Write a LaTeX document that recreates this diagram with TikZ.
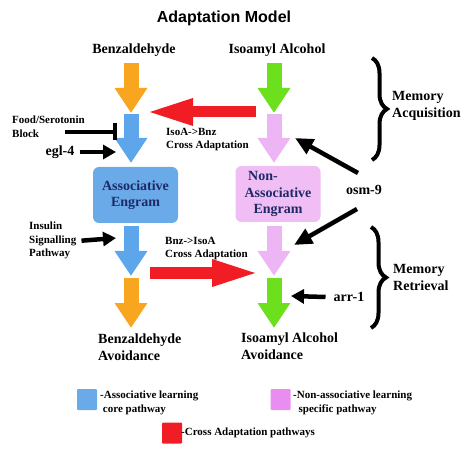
\documentclass[tikz,border=0pt]{standalone}
\usepackage{fontspec}
\setmainfont{Liberation Serif}
\newfontfamily\titlefont{Liberation Sans}
\usetikzlibrary{arrows.meta,decorations.pathreplacing}
\definecolor{benzorange}{HTML}{F8A520}
\definecolor{isogreen}{HTML}{6CE01C}
\definecolor{assocblue}{HTML}{5DA6EC}
\definecolor{nonpink}{HTML}{EDB5F3}
\definecolor{crossred}{HTML}{F01E24}
\definecolor{engramtext}{HTML}{1E2A66}
\definecolor{boxblue}{HTML}{6BAAE9}
\definecolor{boxpink}{HTML}{F1BDF5}
\definecolor{keypink}{HTML}{E98DF0}

\begin{document}
\begin{tikzpicture}[x=1pt, y=-1pt,
    fat/.style={line width=15pt, -{Triangle[length=25pt,width=31pt]}},
    cross/.style={line width=11pt, crossred, -{Triangle[length=48pt,width=24pt]}},
    blk/.style={line width=4.5pt, -{Triangle[length=13pt,width=14pt]}},
    big/.style={font=\bfseries\fontsize{14}{17}\selectfont, align=left, inner sep=0pt},
    small/.style={font=\bfseries\fontsize{11}{13.5}\selectfont, align=left, inner sep=0pt},
    engram/.style={rounded corners=6pt, minimum width=85pt, minimum height=56pt, inner sep=0pt,
        font=\bfseries\fontsize{14}{16.5}\selectfont, text=engramtext, align=center},
    key/.style={minimum width=20pt, minimum height=21pt, inner sep=0pt, rounded corners=1pt},
    memory/.style={decorate, decoration={brace, amplitude=15pt}, line width=4pt}]
    \useasboundingbox (0,0) rectangle (474,457);

    \node (title) at (224,18) {\titlefont\bfseries\fontsize{16}{18}\selectfont Adaptation Model};

    % odours and avoidance
    \node (benz) [big] at (134,50) {Benzaldehyde};
    \node (iso) [big] at (277,50) {Isoamyl Alcohol};
    \node (benzav) [big, anchor=north west] at (98,334) {Benzaldehyde\\Avoidance};
    \node (isoav) [big, anchor=north west] at (241,333) {Isoamyl Alcohol\\Avoidance};

    % engrams
    \node (assoc) [engram, fill=boxblue] at (135.5,195) {Associative\\Engram};
    \node (nonassoc) [engram, fill=boxpink] at (278,194) {Non-\hspace*{30pt}\\Associative\\Engram};

    % main pathways
    \coordinate (bzTop) at (131,63);
    \coordinate (bzTip) at (131,113);
    \coordinate (asTop) at (131,114);
    \coordinate (asTip) at (131,163);
    \coordinate (as2Top) at (131,226);
    \coordinate (as2Tip) at (131,276);
    \coordinate (bz2Top) at (131,278);
    \coordinate (bz2Tip) at (131,328);
    \coordinate (isTop) at (274,63);
    \coordinate (isTip) at (274,113);
    \coordinate (naTop) at (274,114);
    \coordinate (naTip) at (274,163);
    \coordinate (na2Top) at (274,226);
    \coordinate (na2Tip) at (274,276);
    \coordinate (is2Top) at (274,278);
    \coordinate (is2Tip) at (274,328);

    \draw[fat, benzorange] (bzTop) -- (bzTip);
    \draw[fat, assocblue] (asTop) -- (asTip);
    \draw[fat, assocblue] (as2Top) -- (as2Tip);
    \draw[fat, benzorange] (bz2Top) -- (bz2Tip);
    \draw[fat, isogreen] (isTop) -- (isTip);
    \draw[fat, nonpink] (naTop) -- (naTip);
    \draw[fat, nonpink] (na2Top) -- (na2Tip);
    \draw[fat, isogreen] (is2Top) -- (is2Tip);

    % cross adaptation
    \coordinate (isoBnzTail) at (256,112);
    \coordinate (isoBnzTip) at (145,112);
    \coordinate (bnzIsoTail) at (150,273);
    \coordinate (bnzIsoTip) at (260,273);
    \draw[cross] (isoBnzTail) -- (isoBnzTip);
    \draw[cross] (bnzIsoTail) -- (bnzIsoTip);
    \node (isobnz) [small, anchor=north west] at (166,128) {IsoA->Bnz\\Cross Adaptation};
    \node (bnziso) [small, anchor=north west] at (165,237) {Bnz->IsoA\\Cross Adaptation};

    % modulators
    \node (food) [small, anchor=north west] at (12,116) {Food/Serotonin\\Block};
    \node (egl) [big] at (60,152) {egl-4};
    \node (insulin) [small, anchor=north west] at (29,222) {Insulin\\Signalling\\Pathway};
    \node (osm) [big] at (364,190) {osm-9};
    \node (arr) [big] at (349,297) {arr-1};

    \coordinate (foodEnd) at (117,132);
    \coordinate (eglTip) at (116,152);
    \coordinate (insTip) at (116,238);
    \coordinate (osmUpTail) at (358,173);
    \coordinate (osmUpTip) at (295,138);
    \coordinate (osmDnTail) at (357,209);
    \coordinate (osmDnTip) at (294,245);
    \coordinate (arrTip) at (291,296);

    \draw[line width=4pt, -{Bar[width=17pt]}] ([xshift=-20pt]food.east |- foodEnd) -- (foodEnd);
    \draw[blk] ([xshift=5pt]egl.east) -- (eglTip);
    \draw[blk] ([xshift=5pt]insulin.east) -- (insTip);
    \draw[blk, -{Triangle[length=18pt,width=16pt]}] (osmUpTail) -- (osmUpTip);
    \draw[blk, -{Triangle[length=18pt,width=16pt]}] (osmDnTail) -- (osmDnTip);
    \draw[blk] ([xshift=-8pt]arr.west) -- (arrTip);

    % memory phases
    \draw[memory] (372,58) -- (372,160);
    \draw[memory] (371,227) -- (371,328);
    \node (acq) [big, anchor=north west] at (392,91) {Memory\\Acquisition};
    \node (ret) [big, anchor=north west] at (393,264) {Memory\\Retrieval};

    % legend
    \node (keyAssoc) [key, fill=boxblue] at (87,399.5) {};
    \node (keyNon) [key, fill=keypink] at (280.5,399.5) {};
    \node (keyCross) [key, fill=crossred] at (172,433) {};
    \node [small, anchor=north west, font=\bfseries\fontsize{11}{14}\selectfont] at (100,390.5) {-Associative learning\\\ core pathway};
    \node [small, anchor=north west, font=\bfseries\fontsize{11}{14}\selectfont] at (293,390.5) {-Non-associative learning\\\ \ specific pathway};
    \node [small, anchor=west] at (181,433) {-Cross Adaptation pathways};
\end{tikzpicture}
\end{document}
